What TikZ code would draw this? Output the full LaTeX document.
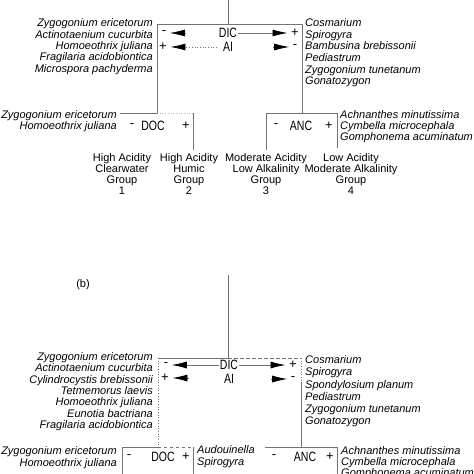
\documentclass[tikz,border=0pt]{standalone}
\usepackage{fontspec}
\setmainfont{Liberation Sans}
\newfontfamily\narrowsf{Liberation Sans}[FakeStretch=0.78]
\usetikzlibrary{arrows.meta,positioning}

\begin{document}
\begin{tikzpicture}[x=1pt,y=-1pt,
	ln/.style={draw=black!55,line width=0.7pt},
	tri/.style={ln,-{Latex[length=15pt,width=7pt,black]}},
	sgn/.style={font=\fontsize{13}{13}\selectfont,inner xsep=3.5pt,inner ysep=0pt},
	var/.style={font=\narrowsf\fontsize{13.5}{13.5}\selectfont,inner sep=1pt},
	taxa/.style={font=\fontsize{11}{#1}\selectfont\itshape,inner sep=0pt},
	taxa/.default=11.4,
	grp/.style={font=\fontsize{11}{11}\selectfont,align=center,inner sep=0pt,anchor=north}]
		\useasboundingbox (0,0) rectangle (474,474);
		% (a)
		\coordinate (rootA) at (228,0);
		\coordinate (boxAl) at (157,24);
		\coordinate (boxAr) at (302,24);
		\draw [ln] (rootA) to (228,24);
		\draw [ln] (157,113) -- (boxAl) -- (boxAr) -- (302,113);
		\draw [ln] (120,113) to (157,113);
		\draw [ln,dotted,draw=black!30] (157,113) to (193,113);
		\draw [ln] (193,113) to (193,150);
		\draw [ln] (266,150) -- (266,113) -- (337,113) -- (337,148);
		\node [var] (dicA) at (228,33) {DIC};
		\node [var] (aiA) at (228,47) {AI};
		\node [sgn] (dicAl) at (164,33) {-};
		\node [sgn] (aiAl) at (163,47) {+};
		\node [sgn] (dicAr) at (295,33) {+};
		\node [sgn] (aiAr) at (295,47) {-};
		\coordinate (dicAt) at (186,33);
		\coordinate (aiAt) at (273,47);
		\draw [tri] (dicAt) to (dicAl);
		\draw [tri,dotted,shorten <=5pt] (aiA) to (aiAl);
		\draw [tri] (dicA) to (dicAr);
		\draw [tri] (aiAt) to (aiAr);
		\node [taxa,align=right,anchor=north east] (taxAl) at (153,18.5) {Zygogonium ericetorum\\Actinotaenium cucurbita\\Homoeothrix juliana\\Fragilaria acidobiontica\\Microspora pachyderma};
		\node [taxa=11.6,align=left,anchor=north west] (taxAr) at (305,18.5) {Cosmarium\\Spirogyra\\Bambusina brebissonii\\Pediastrum\\Zygogonium tunetanum\\Gonatozygon};
		\node [sgn] (docAl) at (132,126) {-};
		\node [var] (docA) at (153,126) {DOC};
		\node [sgn] (docAr) at (186,126) {+};
		\node [sgn] (ancAl) at (276,126) {-};
		\node [var] (ancA) at (301,126) {ANC};
		\node [sgn] (ancAr) at (329,126) {+};
		\node [taxa=11.3,align=right,anchor=north east] (taxDocA) at (117,110.5) {Zygogonium ericetorum\\Homoeothrix juliana};
		\node [taxa=11,align=left,anchor=north west] (taxAncA) at (340,110.5) {Achnanthes minutissima\\Cymbella microcephala\\Gomphonema acuminatum};
		\node [grp] (grp1) at (122,153) {High Acidity\\Clearwater\\Group\\1};
		\node [grp] (grp2) at (189,153) {High Acidity\\Humic\\Group\\2};
		\node [grp] (grp3) at (266,153) {Moderate Acidity\\Low Alkalinity\\Group\\3};
		\node [grp] (grp4) at (351,153) {Low Acidity\\Moderate Alkalinity\\Group\\4};
		% (b)
		\node [font=\fontsize{11}{11}\selectfont] (panelB) at (83,285) {(b)};
		\coordinate (rootB) at (228,275);
		\draw [ln] (rootB) to (228,358);
		\draw [ln] (158,358) to (228,358);
		\draw [ln,dash pattern=on 4pt off 2pt] (228,358) to (301,358);
		\draw [ln,dotted] (158,358) to (158,447);
		\draw [ln,dotted] (301,358) to (301,383);
		\draw [ln] (301,383) to (301,447);
		\draw [ln] (122,474) -- (122,447) -- (158,447);
		\draw [ln,dashed] (158,447) to (193,447);
		\draw [ln] (193,447) to (193,474);
		\draw [ln] (265,447) -- (337,447) -- (337,474);
		\node [var] (dicB) at (229,365) {DIC};
		\node [var] (aiB) at (229,379) {AI};
		\node [sgn] (dicBl) at (166,365) {-};
		\node [sgn] (aiBl) at (165,378) {+};
		\node [sgn] (dicBr) at (293,365) {+};
		\node [sgn] (aiBr) at (293,379) {-};
		\coordinate (aiBt) at (189,378);
		\coordinate (aiBu) at (271,379);
		\draw [tri] (dicB) to (dicBl);
		\draw [tri] (aiBt) to (aiBl);
		\draw [tri] (dicB) to (dicBr);
		\draw [tri] (aiBu) to (aiBr);
		\node [taxa=11.3,align=right,anchor=north east] (taxBl) at (153,352.5) {Zygogonium ericetorum\\Actinotaenium cucurbita\\Cylindrocystis brebissonii\\Tetmemorus laevis\\Homoeothrix juliana\\Eunotia bactriana\\Fragilaria acidobiontica};
		\node [taxa=12.2,align=left,anchor=north west] (taxBr) at (305,355.5) {Cosmarium\\Spirogyra\\Spondylosium planum\\Pediastrum\\Zygogonium tunetanum\\Gonatozygon};
		\node [sgn] (docBl) at (129,457) {-};
		\node [var] (docB) at (163,457) {DOC};
		\node [sgn] (docBr) at (186,457) {+};
		\node [sgn] (ancBl) at (274,457) {-};
		\node [var] (ancB) at (305,457) {ANC};
		\node [sgn] (ancBr) at (330,457) {+};
		\node [taxa=11.8,align=right,anchor=north east] (taxDocBl) at (117,446.5) {Zygogonium ericetorum\\Homoeothrix juliana};
		\node [taxa=12,align=left,anchor=north west] (taxDocBr) at (197,445.5) {Audouinella\\Spirogyra};
		\node [taxa=11,align=left,anchor=north west] (taxAncB) at (341,446.5) {Achnanthes minutissima\\Cymbella microcephala\\Gomphonema acuminatum};
\end{tikzpicture}
\end{document}
